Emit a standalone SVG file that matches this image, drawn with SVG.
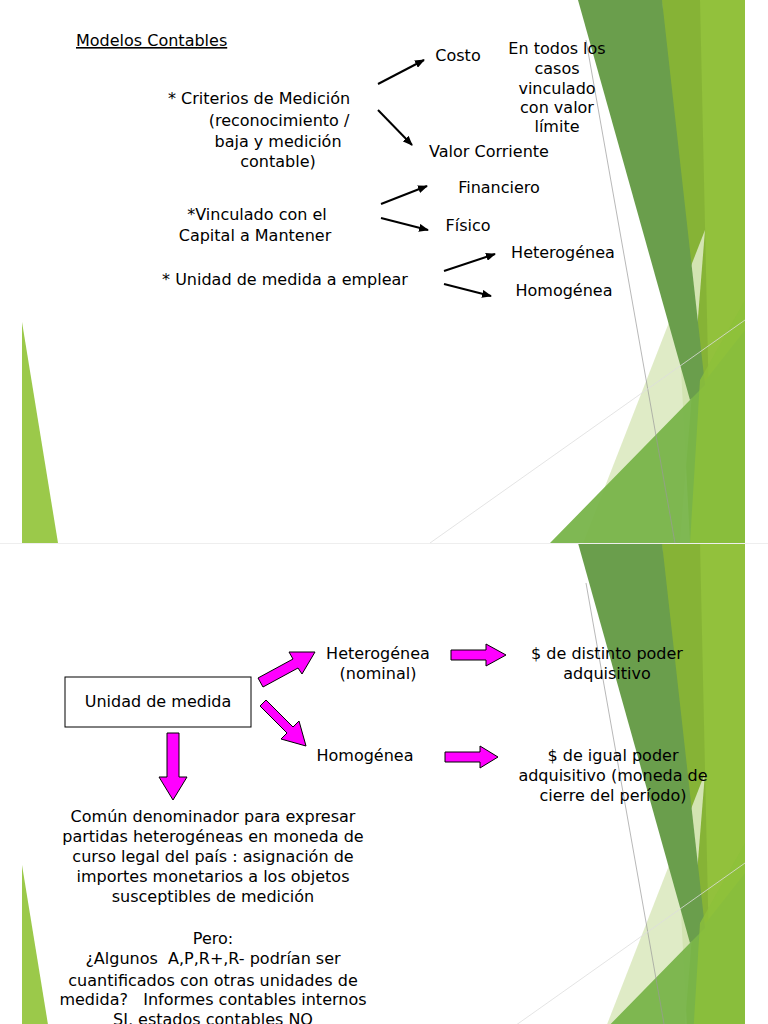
<svg xmlns="http://www.w3.org/2000/svg" width="768" height="1024" viewBox="0 0 768 1024">
<style>
text{font-family:"DejaVu Sans",Verdana,sans-serif;font-size:16px;fill:#000;white-space:pre}
.m{text-anchor:middle}
.ln{stroke:#000;stroke-width:2;fill:none}
.pk{fill:#ff00ff;stroke:#000;stroke-width:1}
</style>
<defs>
<marker id="ah" markerWidth="10" markerHeight="8" refX="9" refY="4" orient="auto" markerUnits="userSpaceOnUse"><path d="M0,0L10,4L0,8z" fill="#000"/></marker>
<g id="deco">
<polygon points="22,322 58,543 22,543" fill="#9bc94a"/>
<polygon points="662,0 745,0 745,543 700,543" fill="#92c13c"/>
<polygon points="662,0 700,0 712,543 690,543" fill="#86b336"/>
<polygon points="705,230 680,543 583,543" fill="#dbe9c0" opacity="0.9"/>
<polygon points="745,330 745,543 550,543 690,400" fill="#78b44a" opacity="0.95"/>
<polygon points="578,0 662,0 705,385 690,400" fill="#6a9e4c"/>
<polygon points="700,380 745,300 745,543 690,543" fill="#8dc03a" opacity="0.8"/>
<line x1="586" y1="40" x2="675" y2="543" stroke="#999" stroke-width="0.7"/>
<line x1="430" y1="543" x2="745" y2="320" stroke="#ddd" stroke-width="0.8"/>
</g>
</defs>
<rect width="768" height="1024" fill="#fff"/>
<use href="#deco"/>
<use href="#deco" y="543"/>
<rect x="0" y="543" width="768" height="1" fill="#eee"/>
<g id="top">
<text x="76" y="46" text-decoration="underline">Modelos Contables</text>
<g id="criterios"><text x="259" y="104" class="m">* Criterios de Medición</text><text x="279" y="126" class="m">(reconocimiento /</text><text x="278" y="147" class="m">baja y medición</text><text x="278" y="167" class="m">contable)</text></g>
<g id="costo"><text x="458" y="61" class="m">Costo</text></g>
<g id="nota"><text x="557" y="54" class="m">En todos los</text><text x="557" y="74" class="m">casos</text><text x="557" y="94" class="m">vinculado</text><text x="557" y="113" class="m">con valor</text><text x="557" y="132" class="m">límite</text></g>
<g id="vc"><text x="489" y="157" class="m">Valor Corriente</text></g>
<g id="capital"><text x="257" y="220" class="m">*Vinculado con el</text><text x="255" y="241" class="m">Capital a Mantener</text></g>
<g id="fin"><text x="499" y="193" class="m">Financiero</text></g>
<g id="fis"><text x="468" y="231" class="m">Físico</text></g>
<g id="unidad1"><text x="285" y="285" class="m">* Unidad de medida a emplear</text></g>
<g id="het1"><text x="563" y="258" class="m">Heterogénea</text></g>
<g id="hom1"><text x="564" y="296" class="m">Homogénea</text></g>
</g>
<g id="bottom">
<g id="ud"><rect x="65" y="677" width="186" height="50" fill="#fff" stroke="#000"/><text x="158" y="707" class="m">Unidad de medida</text></g>
<g id="het2"><text x="378" y="659" class="m">Heterogénea</text><text x="378" y="679" class="m">(nominal)</text></g>
<g id="hom2"><text x="365" y="761" class="m">Homogénea</text></g>
<g id="dist"><text x="607" y="659" class="m">$ de distinto poder</text><text x="607" y="679" class="m">adquisitivo</text></g>
<g id="igual"><text x="613" y="761" class="m">$ de igual poder</text><text x="613" y="781" class="m">adquisitivo (moneda de</text><text x="613" y="801" class="m">cierre del período)</text></g>
<g id="comun"><text x="213" y="822" class="m">Común denominador para expresar</text><text x="213" y="842" class="m">partidas heterogéneas en moneda de</text><text x="213" y="862" class="m">curso legal del país : asignación de</text><text x="213" y="882" class="m">importes monetarios a los objetos</text><text x="213" y="902" class="m">susceptibles de medición</text></g>
<g id="pero"><text x="213" y="944" class="m">Pero:</text><text x="213" y="964" class="m">¿Algunos  A,P,R+,R- podrían ser</text><text x="213" y="986" class="m">cuantificados con otras unidades de</text><text x="213" y="1005" class="m">medida?   Informes contables internos</text><text x="213" y="1025" class="m">SI, estados contables NO</text></g>
</g>
<g id="connectors">
<line class="ln" x1="378" y1="84" x2="424" y2="60" marker-end="url(#ah)"/>
<line class="ln" x1="378" y1="110" x2="412" y2="145" marker-end="url(#ah)"/>
<line class="ln" x1="381" y1="204" x2="427" y2="186" marker-end="url(#ah)"/>
<line class="ln" x1="381" y1="218" x2="428" y2="230" marker-end="url(#ah)"/>
<line class="ln" x1="444" y1="271" x2="495" y2="254" marker-end="url(#ah)"/>
<line class="ln" x1="444" y1="284" x2="491" y2="296" marker-end="url(#ah)"/>
<polygon class="pk" points="258,678 293,659 289,652 315,652 302,674 298,668 263,687"/>
<polygon class="pk" points="266,700 293,727 299,721 306,746 281,739 287,733 260,706"/>
<polygon class="pk" points="451,650 486,650 486,644 506,655 486,666 486,660 451,660"/>
<polygon class="pk" points="445,752 480,752 480,746 498,757 480,768 480,762 445,762"/>
<polygon class="pk" points="167,733 179,733 179,777 187,777 173,800 159,777 167,777"/>
</g>
</svg>
